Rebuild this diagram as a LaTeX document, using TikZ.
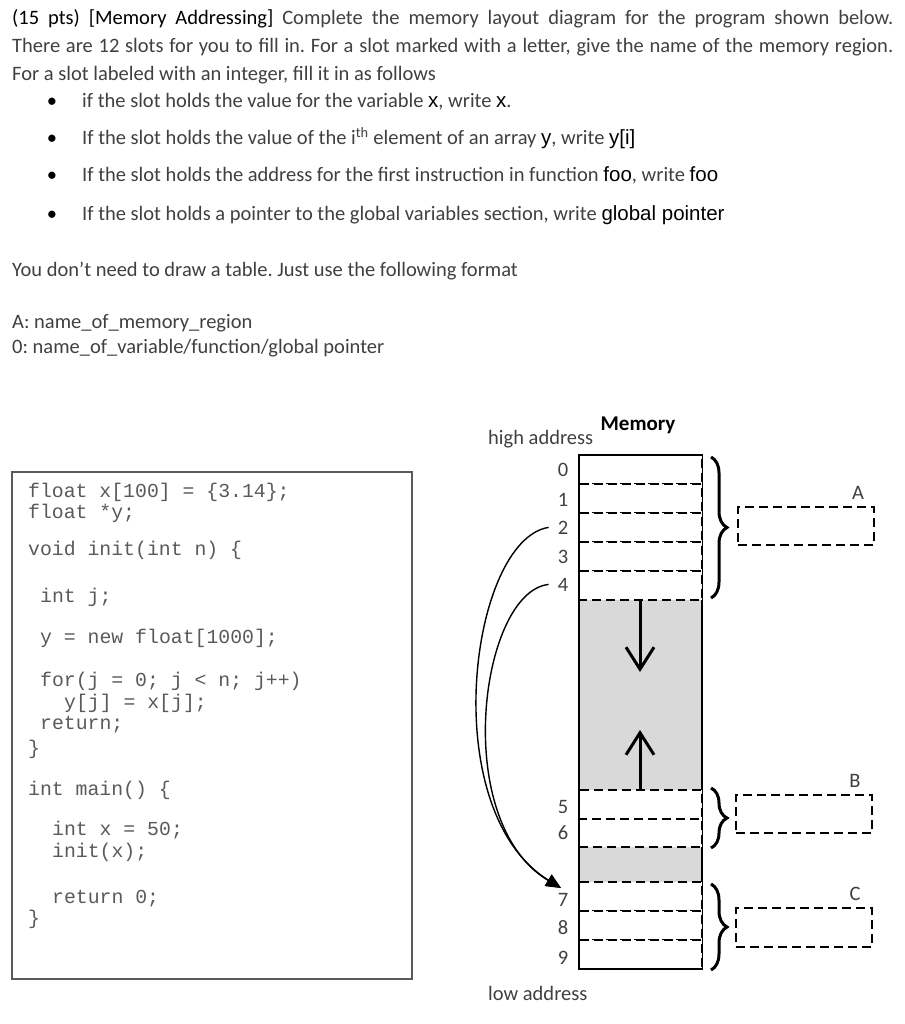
\documentclass[tikz,border=0pt]{standalone}
\usepackage{fontspec}
\setmainfont{Carlito}
\newfontfamily\codefont{Liberation Mono}
\newfontfamily\arialfont{Liberation Sans}
\usepackage{tikz}
\usetikzlibrary{positioning}
\usetikzlibrary{arrows.meta}
\usetikzlibrary{decorations.pathreplacing}
\definecolor{memgray}{HTML}{D9D9D9}
\definecolor{textgray}{HTML}{404040}
\definecolor{codegray}{HTML}{5A5A5A}
\newcommand{\sansword}[1]{{\arialfont\color{black}#1}}
\frenchspacing

\begin{document}
\begin{tikzpicture}[x=1pt, y=-1pt,
    every node/.style={inner sep=0pt},
    body/.style={anchor=base west, text=textgray, font=\fontsize{20.5}{27}\selectfont},
    codeline/.style={anchor=base west, text=codegray, font=\codefont\fontsize{19.8}{24}\selectfont},
    slotnum/.style={anchor=base, text=textgray, font=\fontsize{20.5}{27}\selectfont},
    slot/.style={draw, fill=white, dash pattern=on 9pt off 5pt, line width=2pt},
    answerbox/.style={draw, dash pattern=on 9pt off 5pt, line width=2pt},
    region/.style={decorate, decoration={brace, amplitude=16pt}, line width=3pt},
    growarrow/.style={line width=3pt, -{Straight Barb[length=22pt,width=28pt]}},
    callarrow/.style={line width=1.4pt, -{Triangle[length=15pt,width=13pt]}}]

    \fill[white] (0,0) rectangle (904,1024);

    % Question text
    \node at (12,25) [body] (line1) {\makebox[881pt][s]{{\color{black}(15 pts) [Memory Addressing]} Complete the memory layout diagram for the program shown below.}};
    \node at (12,53) [body] (line2) {\makebox[881pt][s]{There are 12 slots for you to fill in. For a slot marked with a letter, give the name of the memory region.}};
    \node at (12,81) [body] (line3) {For a slot labeled with an integer, fill it in as follows};

    \node at (52,108) [anchor=base, font=\fontsize{20.5}{24}\selectfont] (dot1) {\textbullet};
    \node at (82,108) [body] (item1) {if the slot holds the value for the variable \sansword{x}, write \sansword{x}.};
    \node at (52,145) [anchor=base, font=\fontsize{20.5}{24}\selectfont] (dot2) {\textbullet};
    \node at (82,145) [body] (item2) {If the slot holds the value of the i\textsuperscript{th} element of an array \sansword{y}, write \sansword{y[i]}};
    \node at (52,182) [anchor=base, font=\fontsize{20.5}{24}\selectfont] (dot3) {\textbullet};
    \node at (82,182) [body] (item3) {If the slot holds the address for the first instruction in function \sansword{foo}, write \sansword{foo}};
    \node at (52,221) [anchor=base, font=\fontsize{20.5}{24}\selectfont] (dot4) {\textbullet};
    \node at (82,221) [body] (item4) {If the slot holds a pointer to the global variables section, write \sansword{global pointer}};

    \node at (12,276) [body] (format) {You don’t need to draw a table. Just use the following format};
    \node at (12,328) [body] (fmtA) {A: name\_of\_memory\_region};
    \node at (12,353) [body] (fmt0) {0: name\_of\_variable/function/global pointer};

    % Program
    \draw[codegray, line width=1.3pt] (12,472) rectangle (412,979);
    \node at (28,497) [codeline] (c1) {float x[100] = \{3.14\};};
    \node at (28,518) [codeline] (c2) {float *y;};
    \node at (28,555) [codeline] (c3) {void init(int n) \{};
    \node at (40,602) [codeline] (c4) {int j;};
    \node at (40,643) [codeline] (c5) {y = new float[1000];};
    \node at (40,686) [codeline] (c6) {for(j = 0; j < n; j++)};
    \node at (64,708) [codeline] (c7) {y[j] = x[j];};
    \node at (40,729) [codeline] (c8) {return;};
    \node at (28,754) [codeline] (c9) {\}};
    \node at (28,795) [codeline] (c10) {int main() \{};
    \node at (52,835) [codeline] (c11) {int x = 50;};
    \node at (52,857) [codeline] (c12) {init(x);};
    \node at (52,903) [codeline] (c13) {return 0;};
    \node at (28,924) [codeline] (c14) {\}};

    % Memory column
    \node at (638,430) [anchor=base, font=\fontsize{21}{24}\selectfont\bfseries] (memtitle) {Memory};
    \node at (488,444) [body] (high) {high address};
    \node at (488,1000) [body] (low) {low address};

    \filldraw[fill=memgray, line width=2pt] (579,455) rectangle (702,969);
    \draw[slot] (579,455) rectangle (702,484);
    \draw[slot] (579,484) rectangle (702,513);
    \draw[slot] (579,513) rectangle (702,542);
    \draw[slot] (579,542) rectangle (702,571);
    \draw[slot] (579,571) rectangle (702,600);
    \draw[slot] (579,790) rectangle (702,819);
    \draw[slot] (579,819) rectangle (702,847);
    \draw[slot] (579,882) rectangle (702,911);
    \draw[slot] (579,911) rectangle (702,940);
    \draw[slot] (579,940) rectangle (702,969);
    \draw[line width=2pt] (579,455) -- (579,969);
    \draw[line width=2pt] (579,455) -- (702,455);
    \draw[line width=2pt] (579,969) -- (702,969);
    \draw[line width=2pt] (702,600) -- (702,790);
    \draw[line width=2pt] (702,847) -- (702,882);

    % Slot numbers
    \node at (563,476) [slotnum] (n0) {0};
    \node at (563,506) [slotnum] (n1) {1};
    \node at (563,534) [slotnum] (n2) {2};
    \node at (563,563) [slotnum] (n3) {3};
    \node at (563,591) [slotnum] (n4) {4};
    \node at (563,813) [slotnum] (n5) {5};
    \node at (563,839) [slotnum] (n6) {6};
    \node at (563,906) [slotnum] (n7) {7};
    \node at (563,934) [slotnum] (n8) {8};
    \node at (563,964) [slotnum] (n9) {9};

    % Stack and heap growth
    \coordinate (stacktop) at (640,600);
    \coordinate (stackend) at (640,672);
    \coordinate (heaptop) at (640,790);
    \coordinate (heapend) at (640,730);
    \draw[growarrow] (stacktop) -- (stackend);
    \draw[growarrow] (heaptop) -- (heapend);

    % Return addresses
    \coordinate (target) at (561,888);
    \draw[callarrow] ([xshift=-9pt]n2.west) .. controls (470,540) and (435,810) .. (target);
    \draw[callarrow] ([xshift=-9pt]n4.west) .. controls (480,592) and (450,822) .. (target);

    % Regions
    \draw[region] (711,457) -- (711,598);
    \draw[region] (711,788) -- (711,848);
    \draw[region] (711,884) -- (711,970);

    \node at (737,526) [answerbox, minimum width=136pt, minimum height=38pt, anchor=west] (boxA) {};
    \node at (735,814) [answerbox, minimum width=136pt, minimum height=38pt, anchor=west] (boxB) {};
    \node at (735,927.5) [answerbox, minimum width=136pt, minimum height=39pt, anchor=west] (boxC) {};
    \node at (858,499) [body, anchor=base] (labA) {A};
    \node at (855,787) [body, anchor=base] (labB) {B};
    \node at (855,900) [body, anchor=base] (labC) {C};

\end{tikzpicture}
\end{document}
